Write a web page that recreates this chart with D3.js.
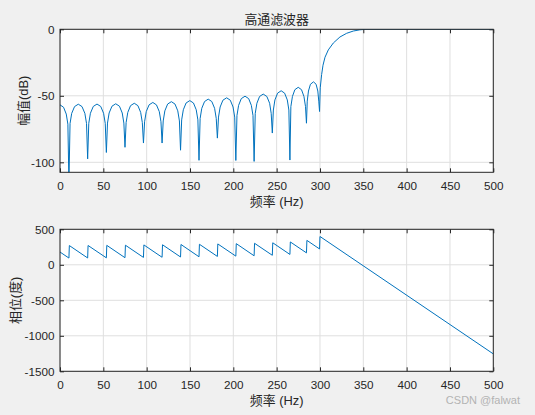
<!DOCTYPE html>
<html>
<head>
<meta charset="utf-8">
<script src="https://cdn.jsdelivr.net/npm/d3@7"></script>
<style>
    body { margin: 0; background: #f0f0f0; }
    svg { display: block; }
    .tick text { font-family: "Liberation Sans", Arial, sans-serif; font-size: 11.7px; fill: #262626; }
    .tick line { stroke: #262626; }
    .lbl { font-family: "Liberation Sans", "Noto Sans CJK SC", sans-serif; font-size: 12.9px; fill: #262626; }
</style>
</head>
<body>
<div id="chart"></div>
<script>
//Tick labels for both plots
let freqTicks = [0, 50, 100, 150, 200, 250, 300, 350, 400, 450, 500];
let magTicks = [-100, -50, 0];
let phaseTicks = [-1500, -1000, -500, 0, 500];

//Magnitude response (dB)
let magFreq = [0, 4.1, 7.2, 9.1, 10.3,
    11.6, 13.5, 16.8, 21.1, 25.4, 28.7, 30.6, 31.9,
    33.2, 35.1, 38.4, 42.7, 47.0, 50.3, 52.2, 53.5,
    54.8, 56.7, 60.0, 64.3, 68.6, 71.8, 73.7, 75.0,
    76.3, 78.2, 81.4, 85.7, 89.9, 93.1, 95.0, 96.3,
    97.6, 99.5, 102.8, 107.1, 111.3, 114.6, 116.5, 117.8,
    119.1, 121.0, 124.2, 128.5, 132.7, 135.9, 137.8, 139.1,
    140.4, 142.3, 145.5, 149.8, 154.0, 157.2, 159.1, 160.4,
    161.7, 163.6, 166.8, 171.0, 175.2, 178.4, 180.3, 181.6,
    182.9, 184.8, 188.0, 192.3, 196.5, 199.7, 201.6, 202.9,
    204.2, 206.1, 209.2, 213.5, 217.7, 220.8, 222.7, 224.0,
    225.3, 227.2, 230.3, 234.5, 238.7, 241.9, 243.7, 245.0,
    246.2, 248.0, 251.1, 255.2, 259.2, 262.3, 264.1, 265.3,
    266.4, 268.2, 271.0, 274.9, 278.7, 281.5, 283.3, 284.4,
    285.3, 286.7, 289.0, 292.5, 295.5, 297.5, 298.6, 299.5,
    300.3, 301.9, 303.5, 305.8, 309.6, 315.4, 323.0, 330.8, 338.5, 346.0, 352.0, 360.0, 500.0];
let magDb = [-56.8, -58.6, -63.7, -71.3, -115,
    -70.8, -63.2, -58.1, -56.3, -58.1, -63.2, -70.8, -97.4,
    -70.7, -63.1, -58.0, -56.2, -58.0, -63.1, -70.7, -92.6,
    -70.5, -62.9, -57.8, -56.0, -57.8, -62.9, -70.5, -88.7,
    -70.1, -62.5, -57.4, -55.6, -57.4, -62.5, -70.1, -85.5,
    -69.5, -61.9, -56.8, -55.0, -56.8, -61.9, -69.5, -85.5,
    -68.9, -61.3, -56.2, -54.4, -56.2, -61.3, -68.9, -90.9,
    -68.1, -60.5, -55.4, -53.6, -55.4, -60.5, -68.1, -98.5,
    -67.0, -59.4, -54.3, -52.5, -54.3, -59.4, -67.0, -81.8,
    -66.0, -58.4, -53.3, -51.5, -53.3, -58.4, -66.0, -98.6,
    -64.8, -57.2, -52.1, -50.3, -52.1, -57.2, -64.8, -99.3,
    -63.2, -55.6, -50.5, -48.7, -50.5, -55.6, -63.2, -78.0,
    -60.7, -53.1, -48.0, -46.2, -48.0, -53.1, -60.7, -98.3,
    -58.1, -50.5, -45.4, -43.6, -45.4, -50.5, -58.1, -70.6,
    -54.0, -46.4, -41.3, -39.5, -41.3, -46.4, -54.0, -61.8,
    -44.0, -34.0, -27.0, -21.0, -15.5, -10.3, -5.8, -3.0, -1.3, -0.4, -0.05, 0, 0];

//Phase response (degrees)
let phaseFreq = [0, 10.3, 10.8, 31.9, 32.4, 53.5, 54.0, 75.0, 75.5, 96.3, 96.8,
    117.8, 118.3, 139.1, 139.6, 160.4, 160.9, 181.6, 182.1, 202.9, 203.4,
    224.0, 224.5, 245.0, 245.5, 265.3, 265.8, 284.4, 284.9, 299.5, 300.0, 500];
let phaseDeg = [180, 95, 271, 96, 272, 98, 274, 100, 276, 104, 280,
    106, 282, 110, 286, 113, 289, 118, 294, 122, 298,
    127, 303, 134, 310, 146, 322, 168, 344, 223, 399, -1255];

//Figure size and the two axes boxes
let svgWidth = 535;
let svgHeight = 415;
let left = 60, right = 493.3;
let topBox = { y0: 29.3, y1: 172.3 };
let botBox = { y0: 229.3, y1: 371.3 };

//Scales
let x = d3.scaleLinear().domain([0, 500]).range([left, right]);
let yMag = d3.scaleLinear().domain([-107.5, 0]).range([topBox.y1, topBox.y0]);
let yPhase = d3.scaleLinear().domain([-1500, 500]).range([botBox.y1, botBox.y0]);

//MATLAB style numbers: plain hyphen, no thousands separator
let plainFormat = function(d) { return String(d) };

let svg = d3.select("#chart")
    .append("svg")
    .attr("width", svgWidth)
    .attr("height", svgHeight);

svg.append("rect")
    .attr("width", svgWidth)
    .attr("height", svgHeight)
    .attr("fill", "#f0f0f0");

//Draw one MATLAB-like axes: white box, grid, inward ticks on all sides
function drawAxes(box, y, yTicks, id) {
    let w = right - left, h = box.y1 - box.y0;

    svg.append("rect")
        .attr("x", left).attr("y", box.y0)
        .attr("width", w).attr("height", h)
        .attr("fill", "white");

    //grid lines
    svg.append("g").selectAll("line.vg")
        .data(freqTicks)
        .enter()
        .append("line")
        .attr("x1", d => x(d)).attr("x2", d => x(d))
        .attr("y1", box.y0).attr("y2", box.y1)
        .attr("stroke", "#dfdfdf").attr("stroke-width", 1);
    svg.append("g").selectAll("line.hg")
        .data(yTicks)
        .enter()
        .append("line")
        .attr("x1", left).attr("x2", right)
        .attr("y1", d => y(d)).attr("y2", d => y(d))
        .attr("stroke", "#dfdfdf").attr("stroke-width", 1);

    //axes
    let bottomAxis = d3.axisBottom(x).tickValues(freqTicks).tickSize(-4).tickSizeOuter(0).tickPadding(9).tickFormat(plainFormat);
    let topAxis = d3.axisTop(x).tickValues(freqTicks).tickSize(-4).tickSizeOuter(0).tickFormat("");
    let leftAxis = d3.axisLeft(y).tickValues(yTicks).tickSize(-4).tickSizeOuter(0).tickPadding(5.5).tickFormat(plainFormat);
    let rightAxis = d3.axisRight(y).tickValues(yTicks).tickSize(-4).tickSizeOuter(0).tickFormat("");

    svg.append("g").attr("transform", "translate(0," + box.y1 + ")").call(bottomAxis);
    svg.append("g").attr("transform", "translate(0," + box.y0 + ")").call(topAxis);
    svg.append("g").attr("transform", "translate(" + left + ",0)").call(leftAxis);
    svg.append("g").attr("transform", "translate(" + right + ",0)").call(rightAxis);
    svg.selectAll(".domain").remove();

    //clip for the data line
    svg.append("clipPath")
        .attr("id", id)
        .append("rect")
        .attr("x", left).attr("y", box.y0)
        .attr("width", w).attr("height", h);
}

function drawBox(box) {
    svg.append("rect")
        .attr("x", left).attr("y", box.y0)
        .attr("width", right - left).attr("height", box.y1 - box.y0)
        .attr("fill", "none")
        .attr("stroke", "#262626")
        .attr("stroke-width", 1);
}

//Top plot: magnitude
drawAxes(topBox, yMag, magTicks, "clipTop");

let magLine = d3.line()
    .x(function(d, i) { return x(magFreq[i]) })
    .y(function(d) { return yMag(d) });

svg.append("path")
    .attr("clip-path", "url(#clipTop)")
    .style("stroke", "#0072bd")
    .style("fill", "none")
    .attr("stroke-width", 1)
    .attr("stroke-linejoin", "round")
    .attr("d", magLine(magDb));

drawBox(topBox);

//Bottom plot: phase
drawAxes(botBox, yPhase, phaseTicks, "clipBot");

let phaseLine = d3.line()
    .x(function(d, i) { return x(phaseFreq[i]) })
    .y(function(d) { return yPhase(d) });

svg.append("path")
    .attr("clip-path", "url(#clipBot)")
    .style("stroke", "#0072bd")
    .style("fill", "none")
    .attr("stroke-width", 1)
    .attr("d", phaseLine(phaseDeg));

drawBox(botBox);

//Title and axis labels
let midX = (left + right) / 2;

svg.append("text")
    .attr("class", "lbl")
    .attr("x", midX).attr("y", 19)
    .attr("text-anchor", "middle")
    .attr("dominant-baseline", "central")
    .text("高通滤波器");

svg.append("text")
    .attr("class", "lbl")
    .attr("x", midX).attr("y", 201.5)
    .attr("text-anchor", "middle")
    .attr("dominant-baseline", "central")
    .text("频率 (Hz)");

svg.append("text")
    .attr("class", "lbl")
    .attr("x", midX).attr("y", 400.5)
    .attr("text-anchor", "middle")
    .attr("dominant-baseline", "central")
    .text("频率 (Hz)");

svg.append("text")
    .attr("class", "lbl")
    .attr("transform", "translate(23," + ((topBox.y0 + topBox.y1) / 2) + ") rotate(-90)")
    .attr("text-anchor", "middle")
    .attr("dominant-baseline", "central")
    .text("幅值(dB)");

svg.append("text")
    .attr("class", "lbl")
    .attr("transform", "translate(15.5," + ((botBox.y0 + botBox.y1) / 2) + ") rotate(-90)")
    .attr("text-anchor", "middle")
    .attr("dominant-baseline", "central")
    .text("相位(度)");

//Watermark
svg.append("text")
    .attr("x", 520).attr("y", 400)
    .attr("text-anchor", "end")
    .attr("dominant-baseline", "central")
    .style("font-family", "Liberation Sans, Arial, sans-serif")
    .style("font-size", "11px")
    .style("fill", "#b3b3b3")
    .text("CSDN @falwat");
</script>
</body>
</html>
